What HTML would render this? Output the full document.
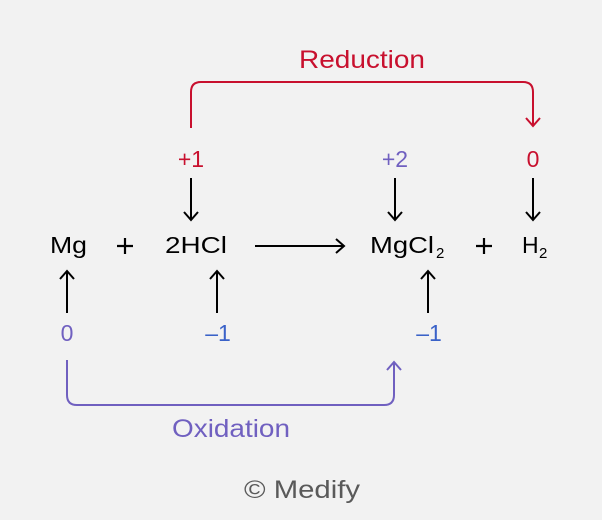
<!DOCTYPE html>
<html><head><meta charset="utf-8"><style>
html,body{margin:0;padding:0;background:#f2f2f2;}
svg{display:block;}
text{font-family:"Liberation Sans",sans-serif;}
</style></head><body>
<svg width="602" height="520" viewBox="0 0 602 520">
<rect width="602" height="520" fill="#f2f2f2"/>
<text x="299" y="68" font-size="25" fill="#c8102e" textLength="126" lengthAdjust="spacingAndGlyphs">Reduction</text>
<path d="M191 128 V92 Q191 82 201 82 H523 Q533 82 533 92 V126" fill="none" stroke="#c8102e" stroke-width="2"/>
<path d="M526 118 L533 126 L540 118" fill="none" stroke="#c8102e" stroke-width="2"/>
<text x="191" y="167" font-size="23" fill="#c8102e" text-anchor="middle">+1</text>
<text x="395" y="167" font-size="23" fill="#7060c0" text-anchor="middle">+2</text>
<text x="533" y="167" font-size="23" fill="#c8102e" text-anchor="middle">0</text>
<g stroke="#000" stroke-width="2" fill="none">
<path d="M191 178 V220 M184 212 L191 220 L198 212"/>
<path d="M395 178 V220 M388 212 L395 220 L402 212"/>
<path d="M533 178 V220 M526 212 L533 220 L540 212"/>
<path d="M255 246 H344 M336 239 L344 246 L336 253"/>
<path d="M67 313 V271 M60 279 L67 271 L74 279"/>
<path d="M217 313 V271 M210 279 L217 271 L224 279"/>
<path d="M428 313 V271 M421 279 L428 271 L435 279"/>
</g>
<g font-size="23" fill="#000">
<text x="50" y="253" textLength="37" lengthAdjust="spacingAndGlyphs">Mg</text>
<text x="165" y="253" textLength="62" lengthAdjust="spacingAndGlyphs">2HCl</text>
<text x="370" y="253" textLength="64" lengthAdjust="spacingAndGlyphs">MgCl</text>
<text x="436" y="258" font-size="15">2</text>
<text x="522" y="253">H</text>
<text x="539" y="258" font-size="15">2</text>
</g>
<g stroke="#000" stroke-width="2.2">
<path d="M117 246 H133 M125 238 V254"/>
<path d="M476 246 H492 M484 238 V254"/>
</g>
<text x="67" y="341" font-size="23" fill="#7060c0" text-anchor="middle">0</text>
<text x="218" y="341" font-size="23" fill="#3a62c8" text-anchor="middle">–1</text>
<text x="429" y="341" font-size="23" fill="#3a62c8" text-anchor="middle">–1</text>
<path d="M67 360 V395 Q67 405 77 405 H384 Q394 405 394 395 V362" fill="none" stroke="#7060c0" stroke-width="2"/>
<path d="M387 370 L394 362 L401 370" fill="none" stroke="#7060c0" stroke-width="2"/>
<text x="172" y="437" font-size="25" fill="#7060c0" textLength="118" lengthAdjust="spacingAndGlyphs">Oxidation</text>
<text x="244" y="498" font-size="25" fill="#5a5a5a" textLength="116" lengthAdjust="spacingAndGlyphs">© Medify</text>
</svg>
</body></html>
